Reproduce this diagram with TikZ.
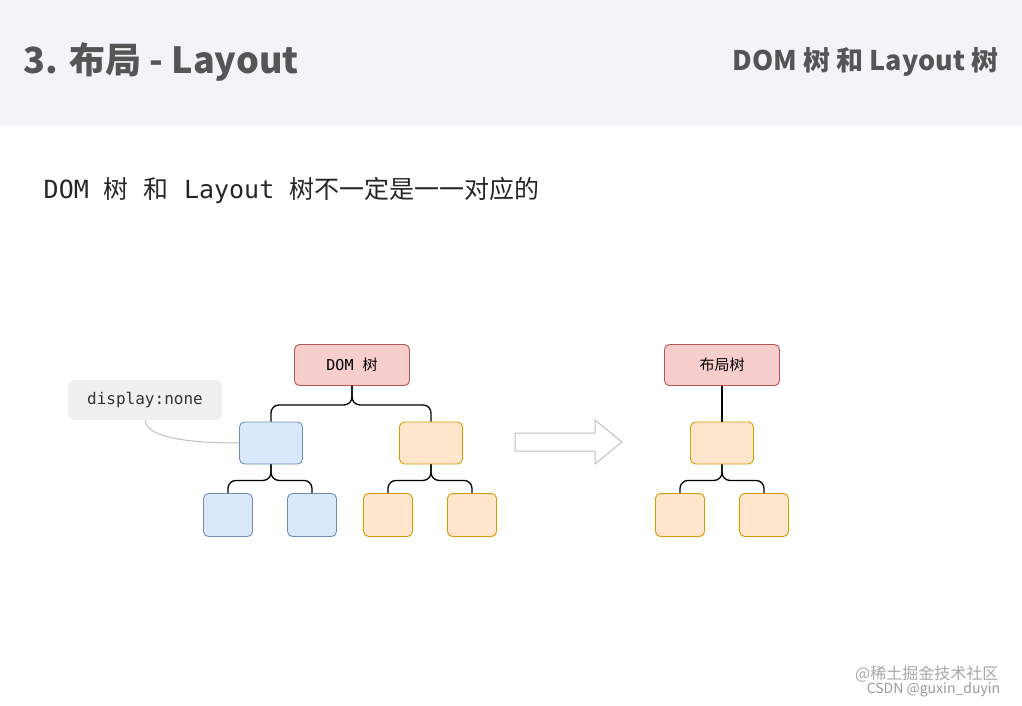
\documentclass[tikz,border=0pt]{standalone}
\usepackage{fontspec}
\setmainfont{Noto Sans CJK SC}
\newfontfamily\cjk{Noto Sans CJK SC}
\newfontfamily\monofont{DejaVu Sans Mono}
\definecolor{headbg}{HTML}{F3F4F8}
\definecolor{headtxt}{HTML}{555555}
\definecolor{redfill}{HTML}{F8CECC}
\definecolor{reddraw}{HTML}{B85450}
\definecolor{bluefill}{HTML}{DAE8FC}
\definecolor{bluedraw}{HTML}{6C8EBF}
\definecolor{orangefill}{HTML}{FFE6CC}
\definecolor{orangedraw}{HTML}{D79B00}

\begin{document}
\begin{tikzpicture}[x=1pt, y=-1pt, thick]
    % Define styles for boxes and lines
    \tikzset{
        box/.style={rectangle, rounded corners=5pt, line width=0.9pt, inner sep=0pt},
        root/.style={box, fill=redfill, draw=reddraw, minimum width=115pt, minimum height=41pt, font=\monofont\fontsize{15}{15}\selectfont},
        bluebox/.style={box, fill=bluefill, draw=bluedraw},
        orangebox/.style={box, fill=orangefill, draw=orangedraw},
        mid/.style={minimum width=63pt, minimum height=42pt},
        leaf/.style={minimum width=49pt, minimum height=43pt},
        branch/.style={line width=1.3pt, rounded corners=8pt}
    }
    \useasboundingbox (0,0) rectangle (1022,706);

    % header
    \fill[headbg] (0,0) rectangle (1022,126);
    \node (title) [anchor=west, text=headtxt, font=\bfseries\fontsize{36}{36}\selectfont] at (20,62) {3. 布局 - Layout};
    \node (subtitle) [anchor=east, text=headtxt, font=\bfseries\fontsize{27}{27}\selectfont] at (1002,62) {DOM 树 和 Layout 树};
    \node (caption) [anchor=west, text=black!85, font=\fontsize{25}{25}\selectfont] at (40,190) {\monofont DOM {\cjk 树} {\cjk 和} Layout {\cjk 树不一定是一一对应的}};

    % DOM tree
    \node (dom) [root] at (352,365) {DOM {\cjk 树}};
    \node (b1) [bluebox, mid] at (271,443) {};
    \node (o1) [orangebox, mid] at (431,443) {};
    \node (b2) [bluebox, leaf] at (228,515) {};
    \node (b3) [bluebox, leaf] at (312,515) {};
    \node (o2) [orangebox, leaf] at (388,515) {};
    \node (o3) [orangebox, leaf] at (472,515) {};
    \node (hint) [box, fill=black!6, minimum width=154pt, minimum height=40pt, font=\monofont\fontsize{16}{16}\selectfont, text=black!80] at (145,400) {display:none};

    \draw[branch] (dom.south) -- ++(0,19) -| (b1.north);
    \draw[branch] (dom.south) -- ++(0,19) -| (o1.north);
    \draw[branch] (b1.south) -- ++(0,16) -| (b2.north);
    \draw[branch] (b1.south) -- ++(0,16) -| (b3.north);
    \draw[branch] (o1.south) -- ++(0,16) -| (o2.north);
    \draw[branch] (o1.south) -- ++(0,16) -| (o3.north);
    \draw[black!25, line width=1pt] (hint.south) .. controls (147,440) and (200,443) .. (b1.west);

    % arrow
    \coordinate (tip) at (622,442);
    \draw[black!25, fill=white, line width=1pt] (515,433) -- (595,433) -- (595,420) -- (tip) -- (595,464) -- (595,451) -- (515,451) -- cycle;

    % layout tree
    \node (lay) [root, font=\cjk\fontsize{15}{15}\selectfont] at (722,365) {布局树};
    \node (l1) [orangebox, mid] at (722,443) {};
    \node (l2) [orangebox, leaf] at (680,515) {};
    \node (l3) [orangebox, leaf] at (764,515) {};
    \draw[branch] (lay) -- (l1);
    \draw[branch] (l1.south) -- ++(0,16) -| (l2.north);
    \draw[branch] (l1.south) -- ++(0,16) -| (l3.north);

    % watermark
    \node (wm1) [anchor=east, text=black!35, font=\fontsize{16}{16}\selectfont] at (1002,674) {@稀土掘金技术社区};
    \node (wm2) [anchor=east, text=black!40, font=\fontsize{14}{14}\selectfont] at (1004,690) {CSDN @guxin\_duyin};
\end{tikzpicture}
\end{document}
